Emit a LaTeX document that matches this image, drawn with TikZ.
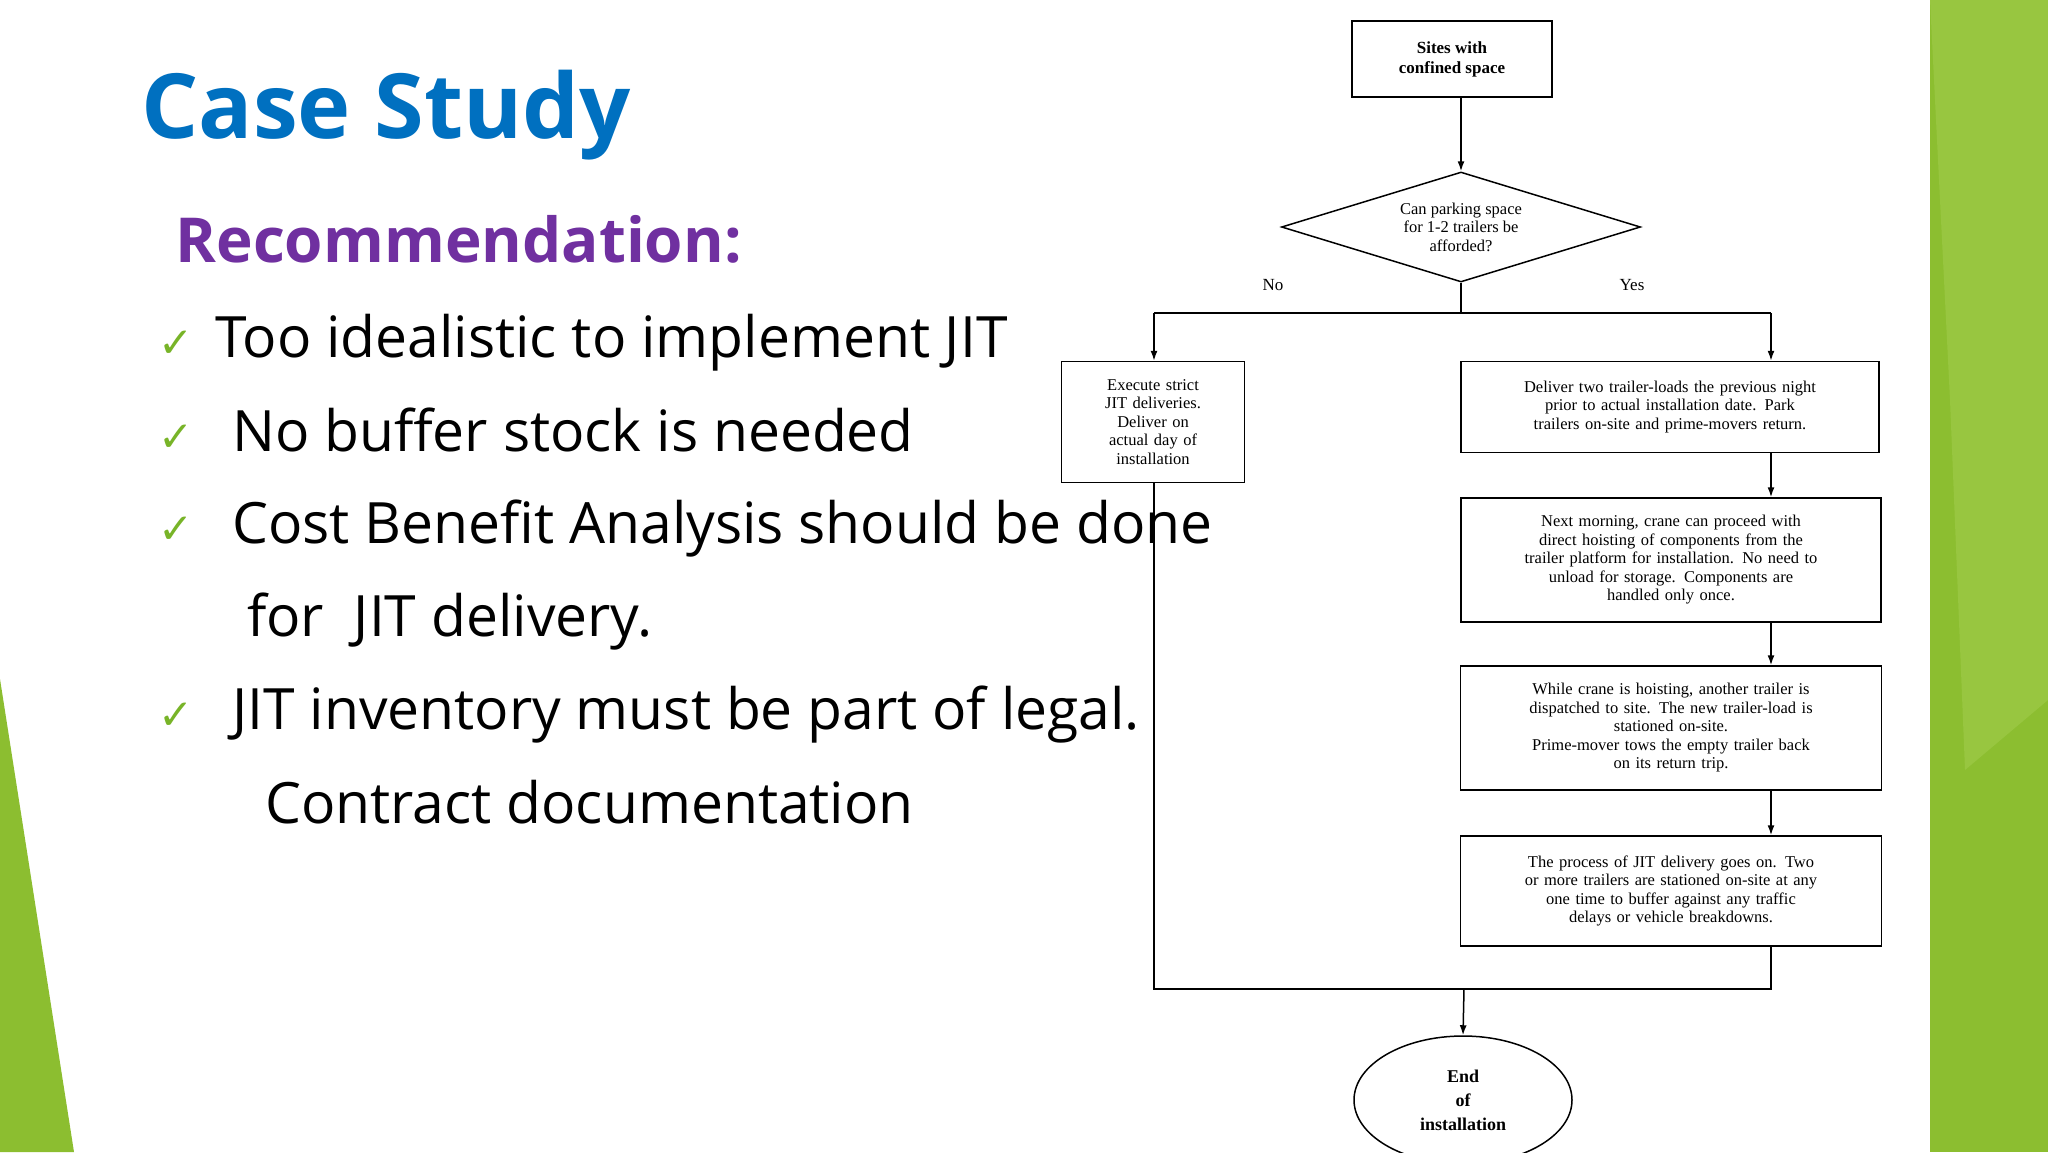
\documentclass[tikz,border=0pt]{standalone}
\usepackage{fontspec}
\setmainfont{Open Sans}
\newfontfamily\ser{Liberation Serif}
\newfontfamily\dej{DejaVu Sans}
\usetikzlibrary{shapes.geometric,arrows.meta}
\definecolor{tblue}{RGB}{0,112,192}
\definecolor{tpurp}{RGB}{112,48,160}
\definecolor{gr}{RGB}{140,190,48}
\definecolor{grl}{RGB}{152,198,64}
\definecolor{chk}{RGB}{120,180,40}
\begin{document}
\begin{tikzpicture}[x=1pt,y=-1pt,
 box/.style={draw,line width=1.5pt,inner sep=4pt,font=\ser\fontsize{16.5}{18.5}\selectfont,align=center},
 arr/.style={line width=1.5pt,-{Latex[length=10pt,width=7pt]}},
 ln/.style={line width=1.5pt},
 bl/.style={anchor=base west,inner sep=0pt,font=\fontsize{57}{60}\selectfont},
 ck/.style={anchor=base west,inner sep=0pt,text=chk,font=\dej\fontsize{42}{44}\selectfont}]
\useasboundingbox (0,0) rectangle (2048,1152);
\fill[white] (0,0) rectangle (2048,1152);
\fill[gr] (1930,0) rectangle (2048,1152);
\fill[grl] (1930,0) -- (2048,0) -- (2048,700) -- (1965,770) -- (1950,400) -- cycle;
\fill[gr] (0,679) -- (74,1152) -- (0,1152) -- cycle;
\node[anchor=west,text=tblue,font=\bfseries\fontsize{90}{96}\selectfont] (t) at (138,115) {Case Study};
\node[anchor=west,text=tpurp,font=\bfseries\fontsize{62}{68}\selectfont] (r) at (172,239) {Recommendation:};
\foreach \y/\n in {357/a,451/b,543/c,729/d}{\node[ck] (c\n) at (158,\y) {✓};}
\node[bl] (l1) at (215,357) {Too idealistic to implement JIT};
\node[bl] (l2) at (232,451) {No buffer stock is needed};
\node[bl] (l3) at (232,543) {Cost Benefit Analysis should be done};
\node[bl] (l4) at (247,636) {for~~JIT delivery.};
\node[bl] (l5) at (232,729) {JIT inventory must be part of legal.};
\node[bl] (l6) at (265,823) {Contract documentation};
% flowchart
\node[box,font=\ser\bfseries\fontsize{17}{20}\selectfont,minimum width=200pt,minimum height=76pt] (s) at (1452,59) {Sites with\\confined space};
\node[draw,line width=1.5pt,diamond,aspect=3.3,inner sep=1pt,minimum width=359pt,minimum height=110pt,align=center,font=\ser\fontsize{16.5}{18.5}\selectfont] (d) at (1461,227) {Can parking space\\for 1-2 trailers be\\afforded?};
\node[box,minimum width=183pt,minimum height=121pt,text width=170pt] (n) at (1153,422) {Execute strict\\JIT deliveries.\\Deliver on\\actual day of\\installation};
\node[box,minimum width=418pt,minimum height=91pt,text width=405pt] (b1) at (1670,407) {Deliver two trailer-loads the previous night\\prior to actual installation date. Park\\trailers on-site and prime-movers return.};
\node[box,minimum width=420pt,minimum height=124pt,text width=405pt] (b2) at (1671,560) {Next morning, crane can proceed with\\direct hoisting of components from the\\trailer platform for installation. No need to\\unload for storage. Components are\\handled only once.};
\node[box,minimum width=421pt,minimum height=124pt,text width=405pt] (b3) at (1671,728) {While crane is hoisting, another trailer is\\dispatched to site. The new trailer-load is\\stationed on-site.\\Prime-mover tows the empty trailer back\\on its return trip.};
\node[box,minimum width=421pt,minimum height=110pt,text width=405pt] (b4) at (1671,891) {The process of JIT delivery goes on. Two\\or more trailers are stationed on-site at any\\one time to buffer against any traffic\\delays or vehicle breakdowns.};
\node[draw,line width=1.5pt,ellipse,minimum width=218pt,minimum height=128pt,align=center,font=\ser\bfseries\fontsize{18}{24}\selectfont] (e) at (1463,1100) {End\\of\\installation};
\coordinate (j) at (1461,313);
\coordinate (jl) at (1154,313);
\coordinate (jr) at (1771,313);
\coordinate (k) at (1464,989);
\coordinate (kl) at (1154,989);
\coordinate (kr) at (1771,989);
\node[font=\ser\fontsize{17}{19}\selectfont] (no) at (1273,285) {No};
\node[font=\ser\fontsize{17}{19}\selectfont] (yes) at (1632,285) {Yes};
\draw[arr] (s.south -| d.north) -- (d.north);
\draw[ln] (d.south) -- (j);
\draw[ln] (jl) -- (jr);
\draw[arr] (jl) -- (jl |- n.north);
\draw[arr] (jr) -- (jr |- b1.north);
\draw[arr] (jr |- b1.south) -- (jr |- b2.north);
\draw[arr] (jr |- b2.south) -- (jr |- b3.north);
\draw[arr] (jr |- b3.south) -- (jr |- b4.north);
\draw[ln] (jl |- n.south) -- (kl) -- (kr) -- (kr |- b4.south);
\draw[arr] (k) -- (e.north);
\end{tikzpicture}
\end{document}
